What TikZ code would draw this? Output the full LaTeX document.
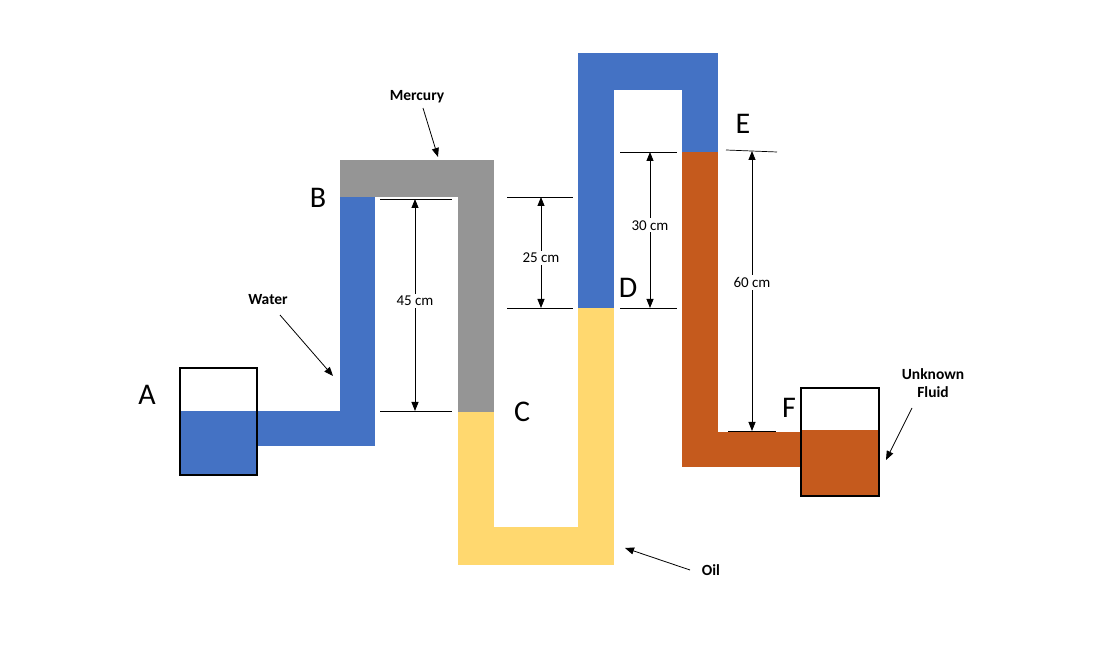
\documentclass[tikz,border=0pt]{standalone}
\usepackage{fontspec}
\setmainfont{Carlito}
\usetikzlibrary{arrows.meta}
\begin{document}
\begin{tikzpicture}[x=1pt,y=-1pt,
  lbl/.style={font=\fontsize{15.5}{18}\selectfont\bfseries,align=center},
  dim/.style={font=\fontsize{15}{17}\selectfont,fill=white,inner sep=2pt},
  big/.style={font=\fontsize{30}{32}\selectfont},
  tick/.style={line width=0.7pt},
  arr/.style={-{Triangle[length=9pt,width=7pt]},line width=0.8pt},
  darr/.style={{Triangle[length=9pt,width=7pt]}-{Triangle[length=9pt,width=7pt]},line width=0.8pt}]
\definecolor{wat}{HTML}{4472C4}
\definecolor{mer}{HTML}{959595}
\definecolor{oil}{HTML}{FFD86F}
\definecolor{unk}{HTML}{C55A1D}
\useasboundingbox (0,0) rectangle (1112,652);
% water left
\fill[wat] (180,411) rectangle (257,475);
\fill[wat] (257,411) rectangle (375,446);
\fill[wat] (340,197) rectangle (375,446);
\draw[line width=1.4pt] (180,368) rectangle (257,475);
% mercury
\fill[mer] (340,160) rectangle (494,197);
\fill[mer] (458,160) rectangle (494,412);
% oil
\fill[oil] (458,412) rectangle (494,565);
\fill[oil] (458,527) rectangle (614,565);
\fill[oil] (578,308) rectangle (614,565);
% water right
\fill[wat] (578,53) rectangle (614,308);
\fill[wat] (578,53) rectangle (718,90);
\fill[wat] (682,53) rectangle (718,152);
% unknown
\fill[unk] (682,152) rectangle (718,467);
\fill[unk] (682,432) rectangle (801,467);
\fill[unk] (801,430) rectangle (879,496);
\draw[line width=1.4pt] (801,388) rectangle (879,496);
% dims
\draw[tick] (380,199) -- (452,199); \draw[tick] (380,411) -- (452,411);
\coordinate (a1) at (415,199); \coordinate (a2) at (415,411);
\draw[darr] (a1) -- (a2) node[dim,pos=0.48] {45 cm};
\draw[tick] (507,197) -- (573,197); \draw[tick] (507,308) -- (573,308);
\coordinate (b1) at (541,197); \coordinate (b2) at (541,308);
\draw[darr] (b1) -- (b2) node[dim,pos=0.55] {25 cm};
\draw[tick] (620,152) -- (677,152); \draw[tick] (620,308) -- (677,308);
\coordinate (c1) at (650,152); \coordinate (c2) at (650,308);
\draw[darr] (c1) -- (c2) node[dim,pos=0.47] {30 cm};
\draw[tick] (726,150) -- (777,152); \draw[tick] (728,431) -- (776,431);
\coordinate (d1) at (752,151); \coordinate (d2) at (752,431);
\draw[darr] (d1) -- (d2) node[dim,pos=0.47] {60 cm};
% letters
\node[big] (A) at (147,395) {A};
\node[big] (B) at (318,198) {B};
\node[big] (C) at (522,412) {C};
\node[big] (D) at (628,288) {D};
\node[big] (E) at (743,124) {E};
\node[big] (F) at (789,408) {F};
% labels
\node[lbl] (merc) at (417,97) {Mercury};
\coordinate (mt) at (438,157);
\draw[arr] (423,108) -- (mt);
\node[lbl] (wtr) at (268,300) {Water};
\coordinate (wt) at (333,376);
\draw[arr] (280,315) -- (wt);
\node[lbl] (oill) at (711,570) {Oil};
\coordinate (ot) at (625,548);
\draw[arr] (690,570) -- (ot);
\node[lbl] (unkl) at (933,383) {Unknown\\Fluid};
\coordinate (ut) at (886,460);
\draw[arr] (912,408) -- (ut);
\end{tikzpicture}
\end{document}
